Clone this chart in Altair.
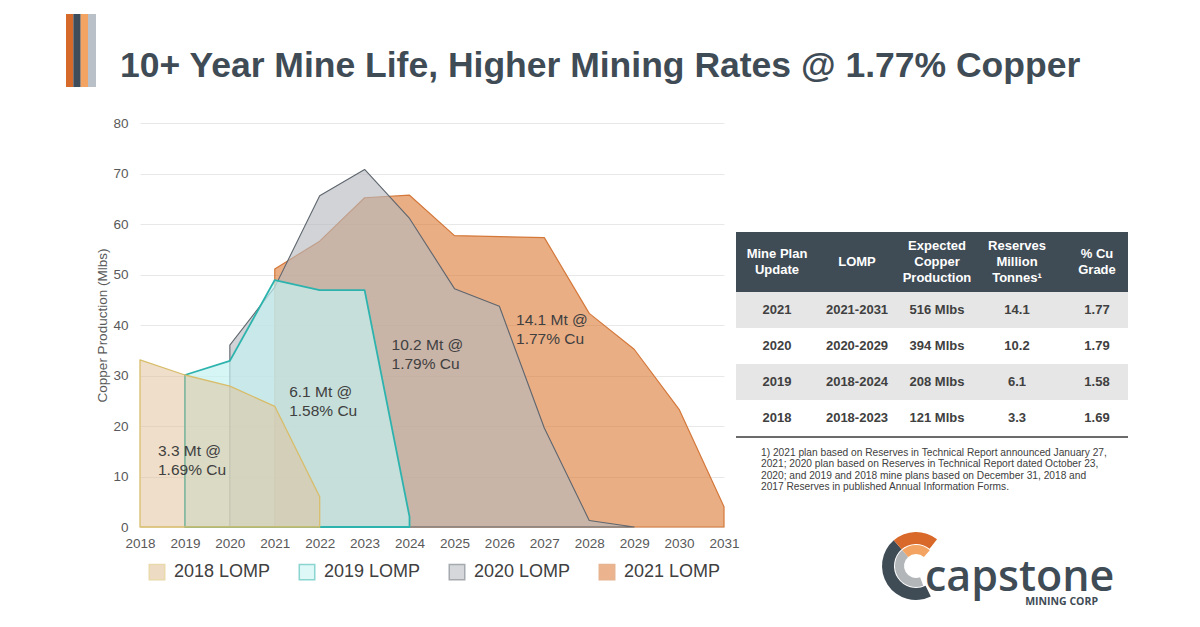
import altair as alt
import pandas as pd

# ---------------- data ----------------
plans = ["2018 LOMP", "2019 LOMP", "2020 LOMP", "2021 LOMP"]

years_2018 = [2018, 2019, 2020, 2021, 2022]
vals_2018 = [33.1, 30.1, 27.9, 23.9, 6.0]

years_2019 = [2019, 2020, 2021, 2022, 2023, 2024]
vals_2019 = [30.1, 32.9, 48.9, 46.9, 46.9, 2.0]

years_2020 = [2020, 2021, 2022, 2023, 2024, 2025, 2026, 2027, 2028, 2029]
vals_2020 = [36.0, 47.5, 65.6, 70.8, 61.1, 47.2, 43.7, 19.6, 1.3, 0.0]

years_2021 = [2021, 2022, 2023, 2024, 2025, 2026, 2027, 2028, 2029, 2030, 2031]
vals_2021 = [51.1, 56.6, 65.2, 65.7, 57.7, 57.5, 57.3, 42.3, 35.2, 23.3, 4.0]

ann_text = ["3.3 Mt @\n1.69% Cu", "6.1 Mt @\n1.58% Cu", "10.2 Mt @\n1.79% Cu", "14.1 Mt @\n1.77% Cu"]
ann_year = [2018.40, 2021.32, 2023.60, 2026.37]
ann_value = [15.0, 26.8, 36.0, 41.0]

col_keys = ["update", "lomp", "prod", "res", "grade"]
col_headers = ["Mine Plan\nUpdate", "LOMP", "Expected\nCopper\nProduction",
               "Reserves\nMillion\nTonnes\u00b9", "% Cu\nGrade"]
tbl_update = ["2021", "2020", "2019", "2018"]
tbl_lomp = ["2021-2031", "2020-2029", "2018-2024", "2018-2023"]
tbl_prod = ["516 Mlbs", "394 Mlbs", "208 Mlbs", "121 Mlbs"]
tbl_res = ["14.1", "10.2", "6.1", "3.3"]
tbl_grade = ["1.77", "1.79", "1.58", "1.69"]
shaded_rows = ["2021", "2019"]

footnote = ("1) 2021 plan based on Reserves in Technical Report announced January 27,\n"
            "2021; 2020 plan based on Reserves in Technical Report dated October 23,\n"
            "2020; and 2019 and 2018 mine plans based on December 31, 2018 and\n"
            "2017 Reserves in published Annual Information Forms.")

title_text = "10+ Year Mine Life, Higher Mining Rates @ 1.77% Copper"

# ---------------- styles ----------------
fill_colors = ["#dfbf95", "#c4f1f1", "#b4b8be", "#dc7834"]
stroke_colors = ["#d8bd6a", "#2db3ad", "#5e666e", "#d4783a"]
fill_opacity = {"2018 LOMP": 0.5, "2019 LOMP": 0.7, "2020 LOMP": 0.62, "2021 LOMP": 0.6}
stroke_width = {"2018 LOMP": 1.3, "2019 LOMP": 1.8, "2020 LOMP": 1.1, "2021 LOMP": 1.2}
SLATE = "#3f4c56"
TXT = "#404040"
FONT = "Liberation Sans"

rows = []
for p, ys, vs in zip(plans, [years_2018, years_2019, years_2020, years_2021],
                     [vals_2018, vals_2019, vals_2020, vals_2021]):
    for yv, vv in zip(ys, vs):
        rows.append({"plan": p, "year": yv, "value": vv})
df = pd.DataFrame(rows)

ann_df = pd.DataFrame({"year": ann_year, "value": ann_value, "label": ann_text})

tbl_rows = []
for i, r in enumerate(tbl_update):
    for k, vals in zip(col_keys, [tbl_update, tbl_lomp, tbl_prod, tbl_res, tbl_grade]):
        tbl_rows.append({"row": r, "col": k, "text": vals[i]})
tbl_df = pd.DataFrame(tbl_rows)
shade_df = pd.DataFrame({"row": shaded_rows})
one = pd.DataFrame({"a": [0]})

# ---------------- main area chart ----------------
x_enc = alt.X("year:Q",
              scale=alt.Scale(domain=[2018, 2031], nice=False, zero=False),
              axis=alt.Axis(values=list(range(2018, 2032)), format="d", title=None,
                            grid=False, domain=False, ticks=False, labelPadding=9,
                            labelFontSize=13.5, labelColor="#595959", labelFont=FONT,
                            labelFlush=False, labelOverlap=False))
y_enc = alt.Y("value:Q",
              scale=alt.Scale(domain=[0, 80], nice=False),
              axis=alt.Axis(values=list(range(0, 81, 10)), title="Copper Production (Mlbs)",
                            grid=True, gridColor="#e8e8e8", gridWidth=1,
                            domain=False, ticks=False, labelPadding=12,
                            labelFontSize=13.5, labelColor="#595959", labelFont=FONT,
                            titleFontSize=13.5, titleColor="#595959", titleFont=FONT,
                            titleFontWeight="normal", titlePadding=3))

leg = alt.Legend(title=None, orient="none", legendX=8, legendY=440, direction="horizontal",
                 symbolType="square", symbolSize=240, symbolStrokeWidth=1.5,
                 symbolOpacity=0.55,
                 labelFontSize=18, labelColor="#404040", labelFont=FONT,
                 columnPadding=25, labelOffset=8)

fill_enc = alt.Fill("plan:N", scale=alt.Scale(domain=plans, range=fill_colors), legend=leg)
stroke_enc = alt.Stroke("plan:N", scale=alt.Scale(domain=plans, range=stroke_colors), legend=leg)

area_layers = []
for p in ["2021 LOMP", "2020 LOMP", "2019 LOMP", "2018 LOMP"]:
    area_layers.append(
        alt.Chart(df).transform_filter(alt.datum.plan == p)
        .mark_area(fillOpacity=fill_opacity[p], strokeWidth=stroke_width[p], strokeJoin="round")
        .encode(x=x_enc, y=y_enc, fill=fill_enc, stroke=stroke_enc)
    )

ann = alt.Chart(ann_df).mark_text(align="left", baseline="middle", lineBreak="\n",
                                  lineHeight=19, fontSize=15.5, color=TXT, font=FONT).encode(
    x="year:Q", y="value:Q", text="label:N")

main = alt.layer(*area_layers, ann)

# ---------------- table ----------------
tx = alt.X("col:N", scale=alt.Scale(type="point", domain=col_keys, range=[637, 957], padding=0),
           axis=None)
ty = alt.Y("row:N", scale=alt.Scale(type="band", domain=tbl_update, range=[169, 313],
                                    paddingInner=0, paddingOuter=0), axis=None)

shade = alt.Chart(shade_df).mark_rect(color="#e6e6e6").encode(
    y=ty, x=alt.value(596), x2=alt.value(988))
hdr_bg = alt.Chart(one).mark_rect(color=SLATE).encode(
    x=alt.value(596), x2=alt.value(988), y=alt.value(109), y2=alt.value(169))
HDR_LH = 15.7
hdr_layers = []
for k, h in zip(col_keys, col_headers):
    n = h.count("\n") + 1
    hdr_layers.append(
        alt.Chart(pd.DataFrame({"col": [k], "label": [h]}))
        .mark_text(color="white", fontWeight="bold", fontSize=13, lineBreak="\n",
                   lineHeight=HDR_LH, baseline="middle", align="center", font=FONT)
        .encode(x=tx, y=alt.value(139 - (n - 1) * HDR_LH / 2), text="label:N")
    )
body_txt = alt.Chart(tbl_df).mark_text(color=TXT, fontWeight="bold", fontSize=13,
                                       baseline="middle", align="center", font=FONT).encode(
    x=tx, y=ty, text="text:N")
bottom_rule = alt.Chart(one).mark_rule(color="#6b6b6b", strokeWidth=2).encode(
    x=alt.value(596), x2=alt.value(988), y=alt.value(314))
foot = alt.Chart(one).mark_text(align="left", baseline="top", fontSize=10.2, lineBreak="\n",
                                lineHeight=11.3, color=TXT, font=FONT).encode(
    x=alt.value(621), y=alt.value(325), text=alt.value(footnote))

# ---------------- decoration: title, stripes, logo ----------------
title = alt.Chart(one).mark_text(align="left", baseline="alphabetic", fontSize=35.5,
                                 fontWeight="bold", font=FONT, color=SLATE).encode(
    x=alt.value(-20), y=alt.value(-46), text=alt.value(title_text))

stripe_colors = ["#d56a2b", "#3e4d59", "#f4a462", "#b9c0c7"]
stripe_x = [-74, -66.7, -59.3, -52, -44]
stripes = [
    alt.Chart(one).mark_rect(color=c).encode(
        x=alt.value(stripe_x[i]), x2=alt.value(stripe_x[i + 1]),
        y=alt.value(-109), y2=alt.value(-36))
    for i, c in enumerate(stripe_colors)
]

cx, cy = 776, 443
arcs_spec = [
    (34, 22, 2.69, 5.57, SLATE),
    (34, 22, 5.57, 6.95, "#d9692a"),
    (21, 12, 2.79, 5.57, "#b3b6b9"),
    (21, 12, 5.57, 7.0, "#f4a462"),
]
arcs = [
    alt.Chart(one).mark_arc(radius=ro, radius2=ri, theta=t1, theta2=t2, color=c).encode(
        x=alt.value(cx), y=alt.value(cy))
    for ro, ri, t1, t2, c in arcs_spec
]
logo_txt = alt.Chart(one).mark_text(align="left", baseline="alphabetic", fontSize=43,
                                    fontWeight=600, font="Open Sans", color=SLATE).encode(
    x=alt.value(785), y=alt.value(468), text=alt.value("capstone"))
logo_sub = alt.Chart(one).mark_text(align="right", baseline="alphabetic", fontSize=10.5,
                                    fontWeight="bold", font="Open Sans", color=SLATE).encode(
    x=alt.value(958), y=alt.value(482), text=alt.value("MINING CORP"))

table = alt.layer(shade, hdr_bg, *hdr_layers, body_txt, bottom_rule, foot, title, *stripes,
                  *arcs, logo_txt, logo_sub)

chart = alt.layer(main, table).resolve_scale(x="independent", y="independent").properties(
    width=584, height=404,
    padding={"left": 140, "top": 123, "right": 476, "bottom": 100},
    autosize=alt.AutoSizeParams(type="none"),
    background="white",
).configure_view(stroke=None)

chart.save("out.html", embed_options={"renderer": "svg", "actions": False})
